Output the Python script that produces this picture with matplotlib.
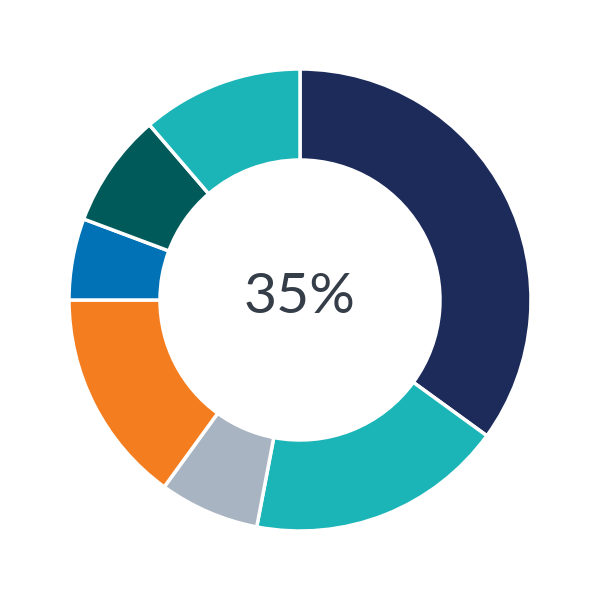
import matplotlib.pyplot as plt

# fatias do donut, sentido horario a partir do topo
labels = ['Navy', 'Teal', 'Gray', 'Orange', 'Blue', 'Dark green', 'Teal 2']
values = [35, 18, 7, 15, 5.7, 8, 11.3]
colors = ['#1c2b5a', '#1bb5b8', '#a9b4c2', '#f47d20', '#0072b5', '#005a5a', '#1bb5b8']
center_text = '35%'

fig = plt.figure(figsize=(6, 6), dpi=100)
ax = fig.add_axes([0, 0, 1, 1])
ax.pie(values, colors=colors, startangle=90, counterclock=False, radius=1,
       wedgeprops=dict(width=1 - 140 / 231, edgecolor='white', linewidth=2.5))
ax.text(0, 0.01, center_text, ha='center', va='center', fontsize=41,
        color='#343d48', family=['Lato', 'DejaVu Sans'], fontweight='normal')
lim = 300 / 231
ax.set_xlim(-lim, lim)
ax.set_ylim(-lim, lim)
ax.set_aspect('equal')
ax.axis('off')
fig.savefig('out.png', dpi=100, facecolor='white')
